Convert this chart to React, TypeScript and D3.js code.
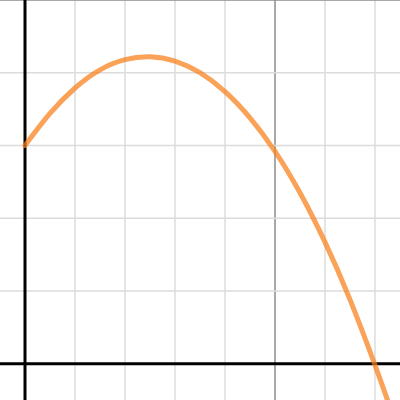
import React from 'react';
import * as d3 from 'd3';

// points
const xValues = [0, 0.5, 1, 1.5, 2, 2.5, 3, 3.5, 4, 4.5, 5, 5.5, 6, 6.5, 7, 7.3];
const yValues = [3.0, 3.44, 3.79, 4.04, 4.18, 4.22, 4.16, 4.0, 3.74, 3.38, 2.92, 2.35, 1.67, 0.88, -0.02, -0.6];

const xGrid = [0, 1, 2, 3, 4, 5, 6, 7];
const yGrid = [0, 1, 2, 3, 4, 5];
const majorStep = 5;

const width = 400;
const height = 400;

const App: React.FC = () => {
    const x = d3.scaleLinear().domain([-0.5, 7.5]).range([0, width]);
    const y = d3.scaleLinear().domain([-0.5, 5]).range([height, 0]);

    const points = xValues.map((v, i) => [v, yValues[i]] as [number, number]);
    const line = d3.line<[number, number]>()
        .x(d => x(d[0]))
        .y(d => y(d[1]))
        .curve(d3.curveNatural);

    const gridColor = (v: number) => (v !== 0 && v % majorStep === 0 ? '#8c8c8c' : '#dcdcdc');

    return (
        <div style={{ position: 'fixed', left: 0, top: 0, width, height, background: '#fff' }}>
            <svg width={width} height={height} style={{ display: 'block' }}>
                <g>
                    {xGrid.filter(v => v !== 0).map(v => (
                        <line key={'gx' + v} x1={x(v)} x2={x(v)} y1={0} y2={height}
                            stroke={gridColor(v)} strokeWidth={1.5} />
                    ))}
                    {yGrid.filter(v => v !== 0).map(v => (
                        <line key={'gy' + v} x1={0} x2={width} y1={y(v)} y2={y(v)}
                            stroke={gridColor(v)} strokeWidth={1.5} />
                    ))}
                </g>
                <line x1={x(0)} x2={x(0)} y1={0} y2={height} stroke="#000" strokeWidth={3} />
                <line x1={0} x2={width} y1={y(0)} y2={y(0)} stroke="#000" strokeWidth={3} />
                <path d={line(points) || ''} fill="none" stroke="#fa7e19" strokeOpacity={0.72}
                    strokeWidth={5} strokeLinecap="round" />
            </svg>
        </div>
    );
};

export default App;
